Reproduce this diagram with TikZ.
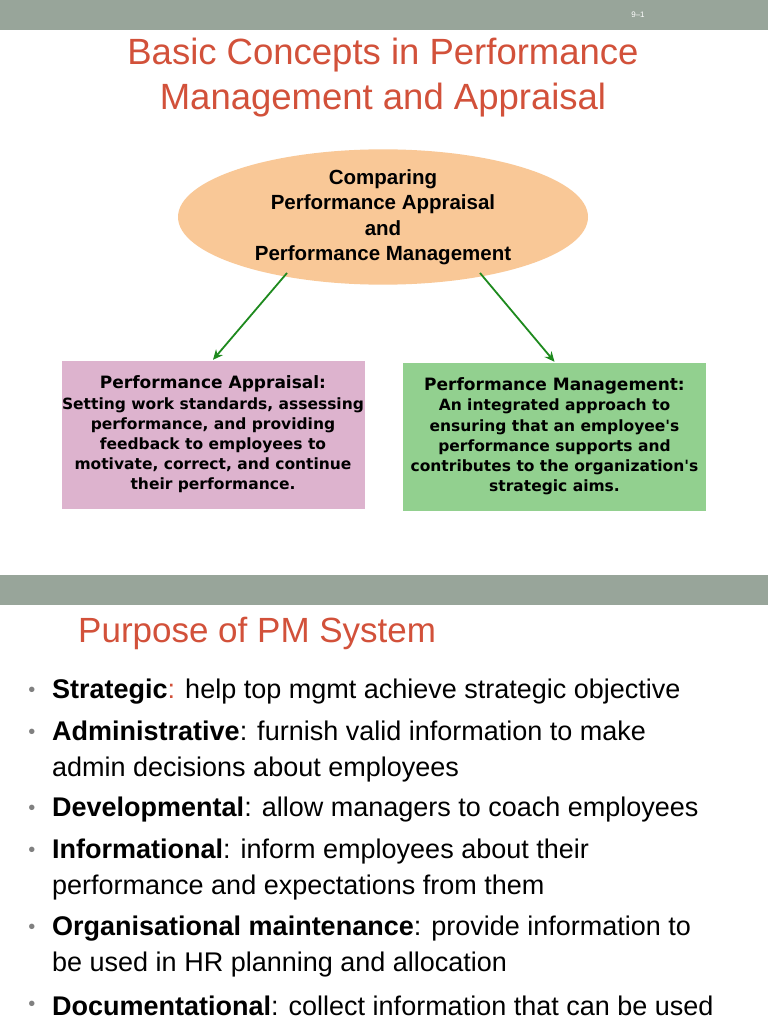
\documentclass[tikz,border=0pt]{standalone}
\usepackage{fontspec}
\setmainfont{Liberation Sans}
\newfontfamily\boxfont{DejaVu Sans}
\usetikzlibrary{shapes.geometric,arrows.meta}
\definecolor{bar}{HTML}{98A59A}
\definecolor{ttl}{HTML}{D2513A}
\definecolor{orng}{HTML}{F9C897}
\definecolor{pinkb}{HTML}{DDB3CE}
\definecolor{greenb}{HTML}{92D08F}
\definecolor{arr}{HTML}{1E8A1E}
\tikzset{
  box/.style={draw=white,minimum width=304pt,minimum height=149pt,align=center,font=\boxfont\bfseries\fontsize{15.5}{20.2}\selectfont,inner sep=0pt},
  conn/.style={draw=arr,line width=1.8pt,-{Stealth[length=10pt,width=9pt]}},
  bul/.style={anchor=west,align=left,font=\fontsize{27}{35.5}\selectfont,inner sep=0pt},
  dot/.style={anchor=center,font=\fontsize{20}{20}\selectfont,text=gray,inner sep=0pt}
}
\begin{document}
\begin{tikzpicture}[x=1pt,y=-1pt]
\useasboundingbox (0,0) rectangle (768,1024);
\fill[white] (0,0) rectangle (768,1024);
\fill[bar] (0,0) rectangle (768,30);
\node[font=\fontsize{8}{8}\selectfont,text=white] (pg) at (638,15) {9--1};
\node[text=ttl,align=center,font=\fontsize{36.5}{45}\selectfont] (t1) at (383,78) {Basic Concepts in Performance\\Management and Appraisal};
\node[ellipse,fill=orng,minimum width=410pt,minimum height=120pt,align=center,font=\bfseries\fontsize{20.5}{25.5}\selectfont,inner sep=0pt] (e) at (383,217) {Comparing\\Performance Appraisal\\and\\Performance Management};
\node[box,fill=pinkb] (pa) at (213,434.5) {{\fontsize{17}{20}\selectfont Performance Appraisal:}\\Setting work standards, assessing\\performance, and providing\\feedback to employees to\\motivate, correct, and continue\\their performance.};
\node[box,fill=greenb] (pm) at (554.5,436.5) {{\fontsize{17}{20}\selectfont Performance Management:}\\An integrated approach to\\ensuring that an employee's\\performance supports and\\contributes to the organization's\\strategic aims.};
\coordinate (a1) at (287,273); \coordinate (a2) at (480,273);
\draw[conn] (a1) -- (pa.north);
\draw[conn] (a2) -- (pm.north);
\fill[bar] (0,575) rectangle (768,605);
\node[text=ttl,anchor=west,font=\fontsize{35}{40}\selectfont,inner sep=0pt] (t2) at (78,633) {Purpose of PM System};
\foreach \y in {692,734,810,852,929,1006} \node[dot] at (32,\y) {•};
\node[bul] (b1) at (52,692) {\textbf{Strategic}\textcolor{ttl}{:} help top mgmt achieve strategic objective};
\node[bul] (b2) at (52,751.5) {\textbf{Administrative}: furnish valid information to make\\admin decisions about employees};
\node[bul] (b3) at (52,810) {\textbf{Developmental}: allow managers to coach employees};
\node[bul] (b4) at (52,869.5) {\textbf{Informational}: inform employees about their\\performance and expectations from them};
\node[bul] (b5) at (52,946.5) {\textbf{Organisational maintenance}: provide information to\\be used in HR planning and allocation};
\node[bul] (b6) at (52,1006) {\textbf{Documentational}: collect information that can be used};
\end{tikzpicture}
\end{document}
